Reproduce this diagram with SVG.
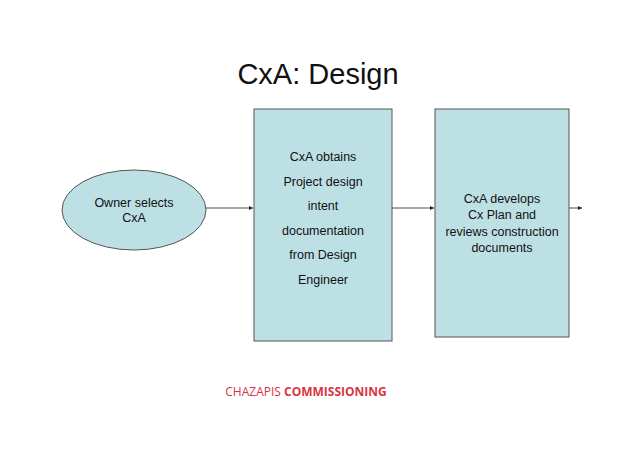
<svg xmlns="http://www.w3.org/2000/svg" width="638" height="452" viewBox="0 0 638 452">
<style>
.n{fill:#bde0e5;stroke:#555;stroke-width:1}
.t{font-family:"Liberation Sans",Arial,sans-serif;font-size:12.5px;fill:#111;text-anchor:middle}
.c{stroke:#222;stroke-width:0.8;fill:none;marker-end:url(#a)}
</style>
<defs><marker id="a" markerWidth="6" markerHeight="6" refX="5" refY="3" orient="auto"><path d="M0,0.5L5,3L0,5.5z" fill="#222"/></marker></defs>
<rect width="638" height="452" fill="#fff"/>
<text x="318" y="84" style="font-family:'Liberation Sans',Arial,sans-serif;font-size:29px;fill:#111;text-anchor:middle">CxA: Design</text>
<g id="owner"><ellipse class="n" cx="134" cy="210" rx="72" ry="40"/>
<text class="t" x="134" y="207">Owner selects</text><text class="t" x="134" y="222">CxA</text></g>
<g id="obtain"><rect class="n" x="254" y="109" width="138" height="232"/>
<text class="t" x="323" y="161">CxA obtains</text><text class="t" x="323" y="186">Project design</text><text class="t" x="323" y="210">intent</text><text class="t" x="323" y="235">documentation</text><text class="t" x="323" y="259">from Design</text><text class="t" x="323" y="284">Engineer</text></g>
<g id="develop"><rect class="n" x="435" y="109" width="134" height="228"/>
<text class="t" x="502" y="203">CxA develops</text><text class="t" x="502" y="219">Cx Plan and</text><text class="t" x="502" y="236">reviews construction</text><text class="t" x="502" y="252">documents</text></g>
<g id="connectors">
<line class="c" x1="206" y1="208" x2="253" y2="208"/>
<line class="c" x1="392" y1="208" x2="434" y2="208"/>
<line class="c" x1="569" y1="208" x2="582" y2="208"/>
</g>
<text x="306" y="396" style="font-family:'Open Sans','Liberation Sans',sans-serif;font-size:12px;fill:#d9343f;text-anchor:middle">CHAZAPIS <tspan font-weight="bold">COMMISSIONING</tspan></text>
</svg>
